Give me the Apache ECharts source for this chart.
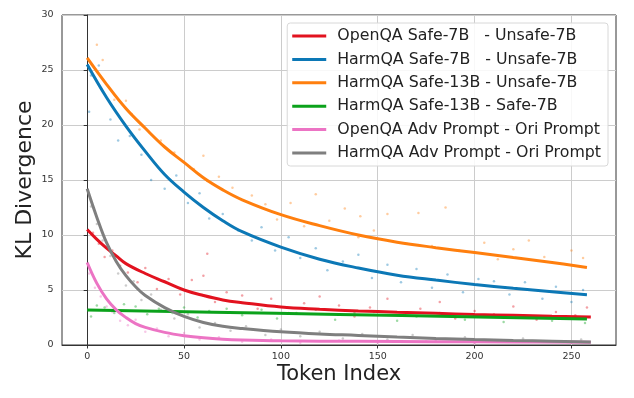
<!DOCTYPE html>
<html>
<head>
<meta charset="utf-8">
<script src="https://cdn.jsdelivr.net/npm/echarts@6/dist/echarts.min.js"></script>
<style>
  html, body { margin: 0; padding: 0; background: #fff; }
  #chart { width: 634px; height: 398px; }
</style>
</head>
<body>
<div id="chart"></div>
<script>
// 曲线名称 / 颜色
const names = [
  'OpenQA Safe-7B   - Unsafe-7B',
  'HarmQA Safe-7B   - Unsafe-7B',
  'HarmQA Safe-13B - Unsafe-7B',
  'HarmQA Safe-13B - Safe-7B',
  'OpenQA Adv Prompt - Ori Prompt',
  'HarmQA Adv Prompt - Ori Prompt'
]
const colors = ['#e2121f', '#0c78b6', '#ff7f0e', '#0ba21b', '#ec74c4', '#7f7f7f']
const xTicks = [0, 50, 100, 150, 200, 250]

// fitted curves, [token index, KL]
const openSafeUnsafe = [[0, 10.5], [5, 9.6], [10, 8.8], [15, 8.1], [20, 7.4], [30, 6.5], [40, 5.75], [50, 5.0], [60, 4.5], [70, 4.1], [80, 3.85], [100, 3.45], [120, 3.25], [140, 3.1], [160, 2.98], [180, 2.88], [200, 2.78], [220, 2.7], [240, 2.62], [260, 2.55]]
const harmSafeUnsafe = [[0, 25.5], [10, 22.5], [20, 19.9], [30, 17.6], [40, 15.5], [50, 13.9], [60, 12.5], [70, 11.3], [80, 10.3], [100, 8.9], [120, 7.8], [140, 7.0], [160, 6.35], [180, 5.9], [200, 5.5], [220, 5.15], [240, 4.85], [258, 4.57]]
const harm13Unsafe = [[0, 26.1], [10, 23.7], [20, 21.5], [30, 19.7], [40, 18.0], [50, 16.6], [60, 15.2], [70, 14.1], [80, 13.2], [100, 11.85], [120, 10.85], [140, 10.0], [160, 9.35], [180, 8.85], [200, 8.4], [220, 7.95], [240, 7.5], [258, 7.05]]
const harm13Safe7 = [[0, 3.18], [65, 2.98], [130, 2.78], [195, 2.57], [258, 2.36]]
const openAdvOri = [[0, 7.5], [5, 5.6], [10, 4.2], [15, 3.2], [20, 2.5], [25, 1.95], [30, 1.6], [40, 1.15], [50, 0.85], [60, 0.65], [70, 0.52], [80, 0.45], [100, 0.38], [140, 0.33], [180, 0.3], [220, 0.27], [260, 0.25]]
const harmAdvOri = [[0, 14.2], [5, 11.6], [10, 9.3], [15, 7.6], [20, 6.3], [25, 5.3], [30, 4.5], [40, 3.4], [50, 2.6], [60, 2.05], [70, 1.7], [80, 1.5], [100, 1.2], [120, 1.0], [140, 0.87], [160, 0.72], [180, 0.6], [200, 0.5], [220, 0.42], [240, 0.35], [260, 0.27]]

// raw points (faint dots)
const openSafeUnsafeDots = [[3, 10.2], [6, 9.2], [9, 8.0], [13, 8.6], [17, 7.2], [21, 6.6], [26, 5.7], [30, 7.0], [36, 5.1], [42, 6.0], [48, 4.6], [54, 5.9], [60, 6.3], [62, 8.3], [66, 3.9], [72, 4.8], [80, 4.5], [88, 3.3], [95, 4.2], [104, 2.9], [112, 3.8], [120, 4.4], [130, 3.6], [138, 2.6], [146, 3.4], [155, 4.2], [164, 2.7], [172, 3.3], [182, 3.9], [190, 2.4], [200, 3.1], [210, 2.8], [220, 3.5], [232, 2.3], [242, 3.0], [252, 2.7], [258, 3.4]]
const harmSafeUnsafeDots = [[2, 24.5], [6, 25.4], [1, 21.2], [12, 20.5], [16, 18.6], [22, 19.0], [28, 17.3], [33, 15.0], [40, 14.2], [46, 15.4], [52, 12.9], [58, 13.8], [63, 11.5], [70, 11.9], [78, 10.4], [85, 9.5], [90, 10.7], [97, 8.6], [104, 9.8], [110, 7.9], [118, 8.8], [124, 6.8], [132, 7.6], [140, 8.2], [147, 6.1], [155, 7.3], [162, 5.7], [170, 6.9], [178, 5.2], [186, 6.4], [194, 4.8], [202, 6.0], [210, 5.8], [218, 4.6], [226, 5.7], [235, 4.2], [242, 5.3], [250, 3.9], [256, 5.0]]
const harm13UnsafeDots = [[5, 27.3], [8, 25.9], [14, 22.3], [18, 21.9], [20, 22.2], [23, 21.0], [27, 19.6], [38, 18.6], [45, 17.5], [55, 16.0], [60, 17.2], [62, 14.9], [68, 15.3], [75, 14.3], [85, 13.6], [92, 12.8], [98, 11.4], [105, 12.9], [112, 10.8], [118, 13.7], [125, 11.3], [133, 12.4], [140, 9.8], [141, 11.7], [148, 10.4], [155, 11.9], [165, 9.2], [171, 12.0], [178, 9.0], [185, 12.5], [192, 8.6], [205, 9.3], [212, 7.8], [220, 8.7], [228, 9.5], [236, 8.0], [244, 7.4], [250, 8.6], [256, 7.9]]
const harm13Safe7Dots = [[2, 2.6], [5, 3.6], [9, 3.4], [14, 2.9], [19, 3.7], [25, 3.5], [31, 2.8], [37, 3.3], [44, 2.9], [50, 3.4], [57, 2.5], [63, 3.1], [72, 3.3], [80, 2.7], [90, 3.2], [98, 2.4], [108, 2.9], [118, 3.2], [128, 2.3], [138, 2.9], [148, 3.0], [160, 2.2], [170, 2.6], [182, 2.9], [195, 2.3], [205, 2.7], [215, 2.1], [228, 2.6], [240, 2.2], [252, 2.4], [257, 2.0]]
const openAdvOriDots = [[1, 6.5], [4, 5.2], [7, 4.4], [10, 3.5], [13, 3.0], [17, 2.2], [21, 1.8], [25, 2.3], [30, 1.2], [36, 1.5], [42, 0.8], [50, 1.1], [58, 0.5], [68, 0.7], [80, 0.3], [95, 0.5], [110, 0.2], [130, 0.4], [150, 0.2], [175, 0.35], [200, 0.15], [225, 0.3], [250, 0.2]]
const harmAdvOriDots = [[2, 12.6], [5, 11.0], [8, 9.5], [12, 8.1], [16, 6.5], [20, 5.4], [24, 5.8], [28, 4.1], [33, 4.6], [38, 3.2], [45, 2.4], [52, 2.8], [58, 1.6], [66, 2.0], [74, 1.3], [82, 1.7], [92, 0.9], [100, 1.4], [110, 0.8], [120, 1.2], [132, 0.6], [142, 1.0], [155, 0.5], [168, 0.9], [180, 0.4], [195, 0.7], [210, 0.3], [225, 0.6], [240, 0.3], [255, 0.5]]

const curves = [openSafeUnsafe, harmSafeUnsafe, harm13Unsafe, harm13Safe7, openAdvOri, harmAdvOri]
const dots = [openSafeUnsafeDots, harmSafeUnsafeDots, harm13UnsafeDots, harm13Safe7Dots, openAdvOriDots, harmAdvOriDots]

const font = 'DejaVu Sans'
const chart = echarts.init(document.getElementById('chart'))

const series = []
dots.forEach((d, i) => {
  series.push({
    name: 'dots' + i,
    type: 'scatter',
    data: d,
    symbolSize: 2.5,
    itemStyle: { color: colors[i], opacity: 0.4 },
    z: 1,
    silent: true
  })
})
curves.forEach((c, i) => {
  series.push({
    name: names[i],
    type: 'line',
    data: c,
    smooth: 0.4,
    showSymbol: false,
    lineStyle: { color: colors[i], width: 3 },
    itemStyle: { color: colors[i] },
    z: 3
  })
})

chart.setOption({
  animation: false,
  grid: {
    left: 62, right: 18, top: 15, bottom: 53,
    show: true, borderColor: '#333', borderWidth: 1
  },
  legend: {
    data: names,
    orient: 'vertical',
    right: 26,
    top: 23,
    icon: 'rect',
    itemWidth: 34,
    itemHeight: 3,
    itemGap: 7.4,
    padding: [5, 7, 5, 5],
    borderColor: '#d8d8d8',
    borderWidth: 1,
    borderRadius: 3,
    backgroundColor: 'rgba(255,255,255,0.85)',
    textStyle: { fontFamily: font, fontSize: 15.8, color: '#222', lineHeight: 16, padding: [0, 0, 0, 6] }
  },
  xAxis: {
    type: 'value',
    min: -13,
    max: 273,
    name: 'Token Index',
    nameLocation: 'middle',
    nameGap: 19,
    nameMoveOverlap: false,
    nameTextStyle: { fontFamily: font, fontSize: 21, color: '#222' },
    axisLine: { show: true, lineStyle: { color: '#333' } },
    axisTick: { show: true, length: 3.5, customValues: xTicks, lineStyle: { color: '#333' } },
    axisLabel: { customValues: xTicks, margin: 7, fontFamily: font, fontSize: 9.5, color: '#333' },
    splitLine: { show: true, lineStyle: { color: '#cccccc', width: 1 } }
  },
  yAxis: {
    type: 'value',
    min: 0,
    max: 30,
    interval: 5,
    name: 'KL Divergence',
    nameLocation: 'middle',
    nameGap: 26,
    nameMoveOverlap: false,
    nameTextStyle: { fontFamily: font, fontSize: 22, color: '#222' },
    axisLine: { show: true, lineStyle: { color: '#333' } },
    axisTick: { show: true, length: 3.5, lineStyle: { color: '#333' } },
    axisLabel: { margin: 8.5, fontFamily: font, fontSize: 9.5, color: '#333' },
    splitLine: { show: true, lineStyle: { color: '#cccccc', width: 1 } }
  },
  series: series
})
</script>
</body>
</html>
